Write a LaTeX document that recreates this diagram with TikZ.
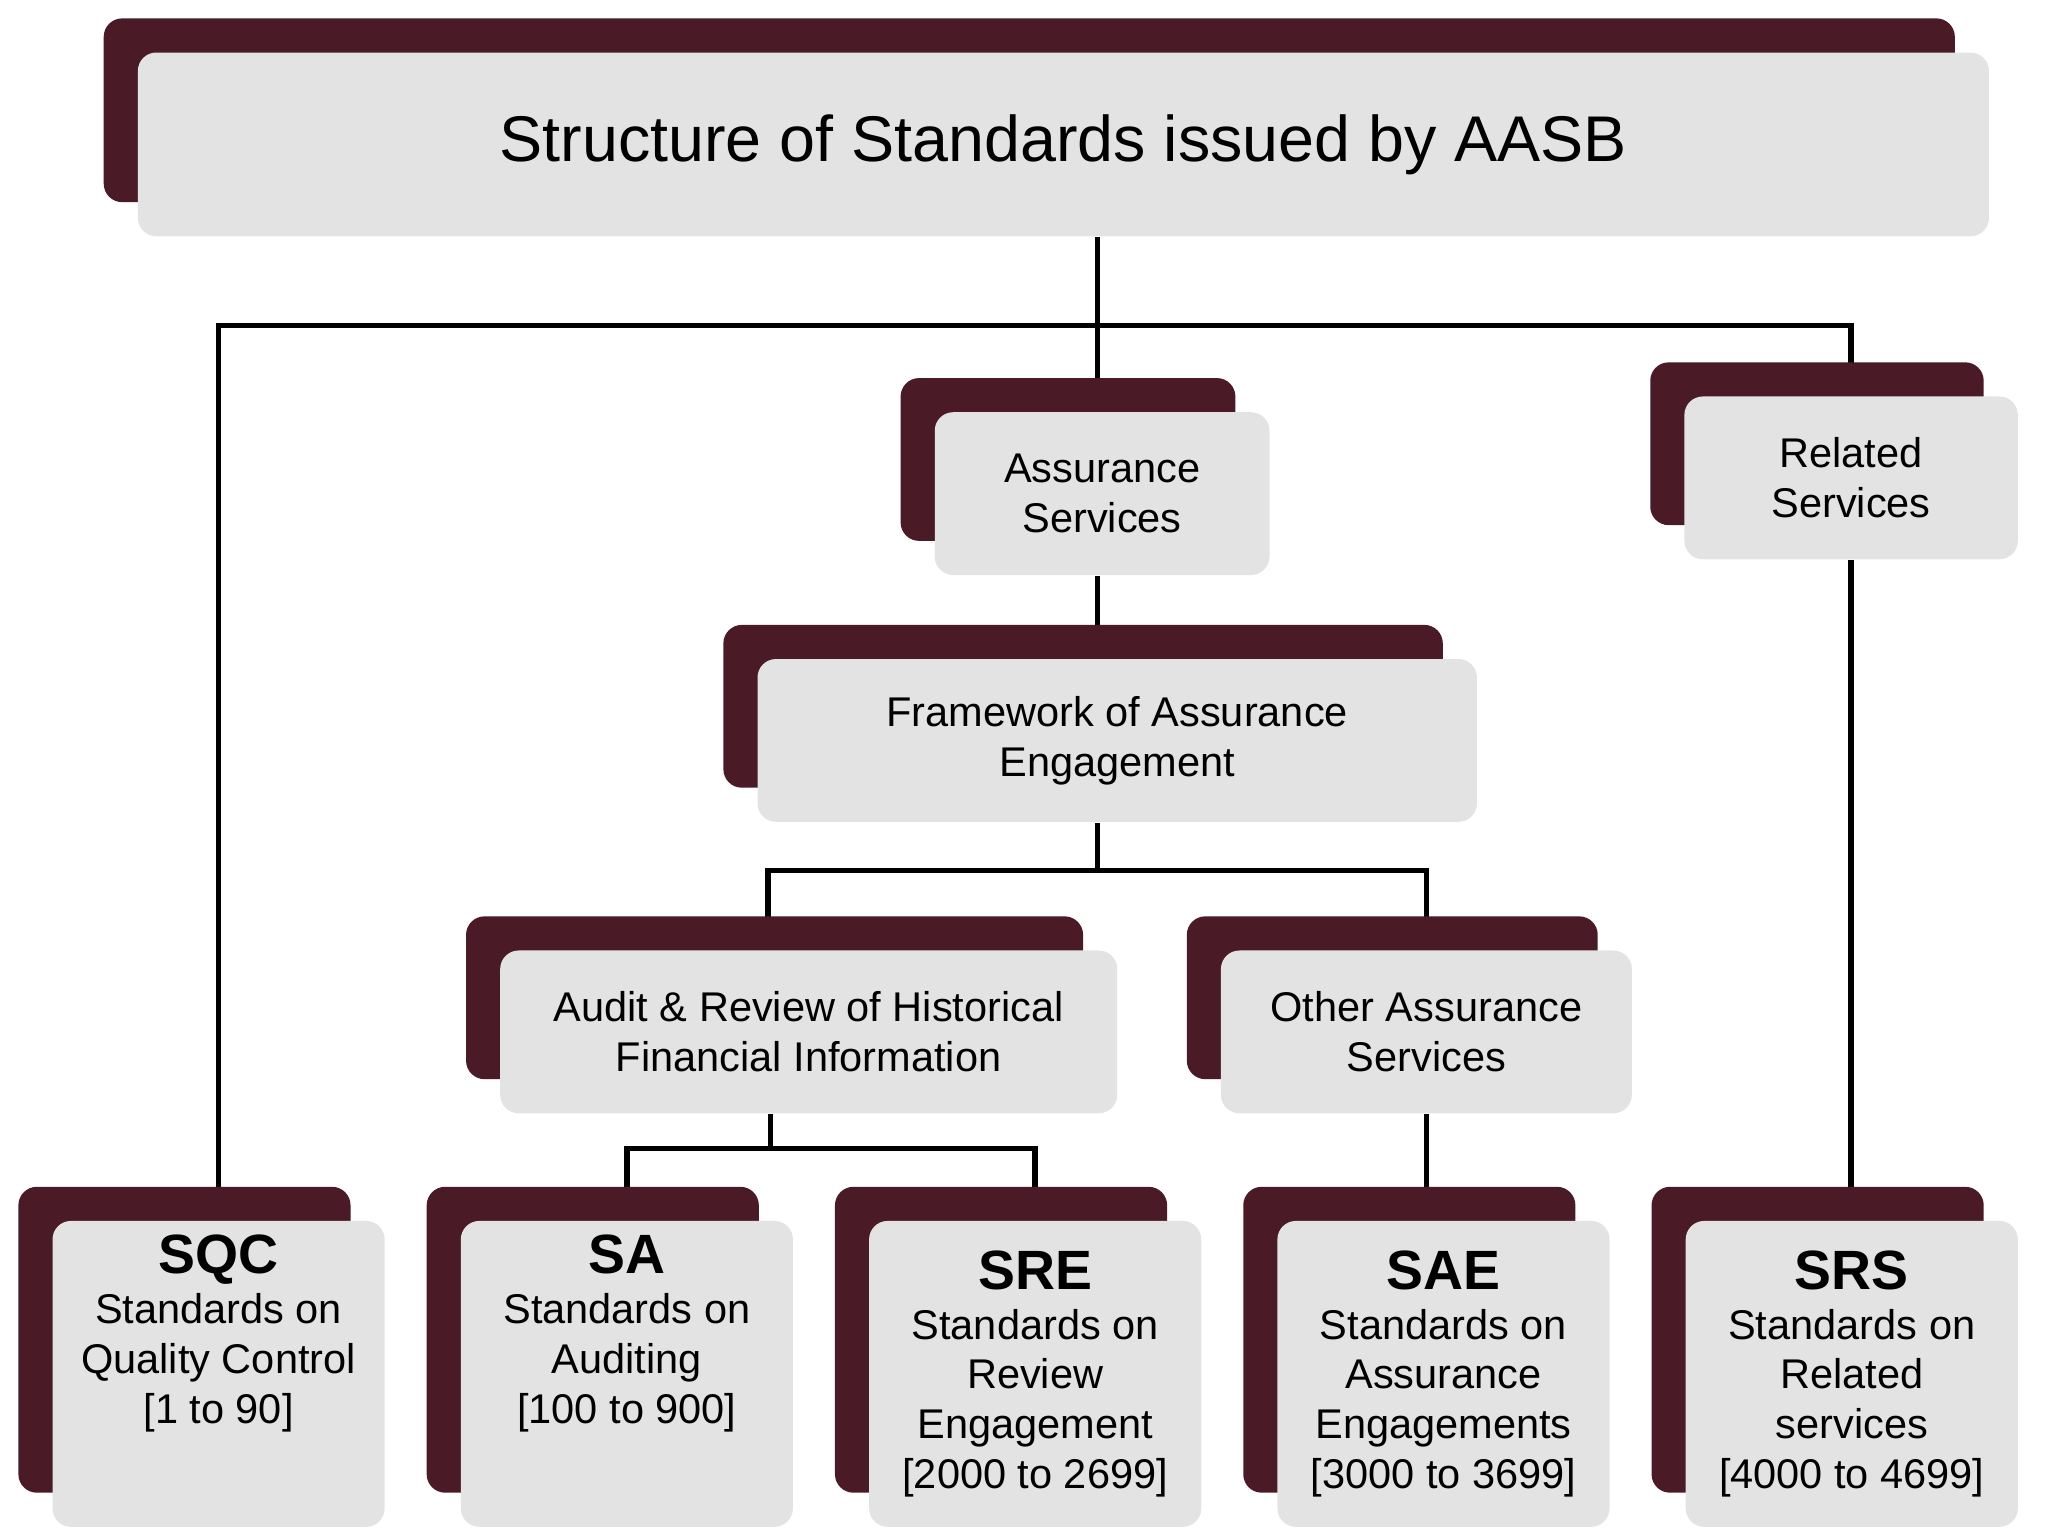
\documentclass[tikz,border=0pt]{standalone}
\usepackage{fontspec}
\setmainfont{Liberation Sans}
\usetikzlibrary{shadows,backgrounds}
\definecolor{maroon}{HTML}{4A1A27}
\definecolor{boxgray}{HTML}{E3E3E3}

\begin{document}
\begin{tikzpicture}[
  box/.style={fill=boxgray, rounded corners=4pt, align=center, inner sep=0pt,
    font=\fontsize{9}{10.8}\selectfont,
    copy shadow={shadow xshift=-0.26cm, shadow yshift=0.26cm, fill=maroon, draw=none}},
  std/.style={box, minimum width=2.53cm, minimum height=2.33cm},
  link/.style={line width=1.2pt, black}]
\useasboundingbox (0,0) rectangle (15.6,-11.7);

% Top level
\node[box, minimum width=14.1cm, minimum height=1.4cm, font=\fontsize{14}{16}\selectfont]
  (title) at (8.10,-1.10) {Structure of Standards issued by AASB};

% Services
\node[box, minimum width=2.55cm, minimum height=1.24cm] (assur) at (8.395,-3.76) {Assurance\\Services};
\node[box, minimum width=2.54cm, minimum height=1.24cm] (related) at (14.10,-3.64) {Related\\Services};
\node[box, minimum width=5.48cm, minimum height=1.24cm] (fw) at (8.51,-5.64) {Framework of Assurance\\Engagement};
\node[box, minimum width=4.70cm, minimum height=1.24cm] (audit) at (6.16,-7.86) {Audit \& Review of Historical\\Financial Information};
\node[box, minimum width=3.13cm, minimum height=1.24cm] (other) at (10.865,-7.86) {Other Assurance\\Services};

% Standards
\node[std] (sqc) at (1.665,-10.465) {{\fontsize{12}{14}\selectfont\bfseries SQC}\\Standards on\\Quality Control\\{[1 to 90]}\\[0.3cm]};
\node[std] (sa) at (4.775,-10.465) {{\fontsize{12}{14}\selectfont\bfseries SA}\\Standards on\\Auditing\\{[100 to 900]}\\[0.3cm]};
\node[std] (sre) at (7.885,-10.465) {{\fontsize{12}{14}\selectfont\bfseries SRE}\\Standards on\\Review\\Engagement\\{[2000 to 2699]}};
\node[std] (sae) at (10.995,-10.465) {{\fontsize{12}{14}\selectfont\bfseries SAE}\\Standards on\\Assurance\\Engagements\\{[3000 to 3699]}};
\node[std] (srs) at (14.105,-10.465) {{\fontsize{12}{14}\selectfont\bfseries SRS}\\Standards on\\Related\\services\\{[4000 to 4699]}};

% Connectors
\coordinate (j1) at (8.36,-2.48);
\coordinate (j2) at (8.36,-6.63);
\coordinate (j3) at (5.87,-8.75);
\begin{scope}[on background layer]
\draw[link] (j1 |- title.south) -- (j1 |- assur.north);
\draw[link] (sqc.north) |- (related.north |- j1) -- (related.north);
\draw[link] (j1 |- assur.south) -- (j1 |- fw.north);
\draw[link] (j2 |- fw.south) -- (j2);
\draw[link] (audit.north) ++(-0.31,0) |- (other.north |- j2) -- (other.north);
\draw[link] (j3 |- audit.south) -- (j3);
\draw[link] (sa.north) |- (sre.north |- j3) -- (sre.north);
\draw[link] (other.south) -- (other.south |- sae.north);
\draw[link] (related.south) -- (related.south |- srs.north);
\end{scope}
\end{tikzpicture}
\end{document}
